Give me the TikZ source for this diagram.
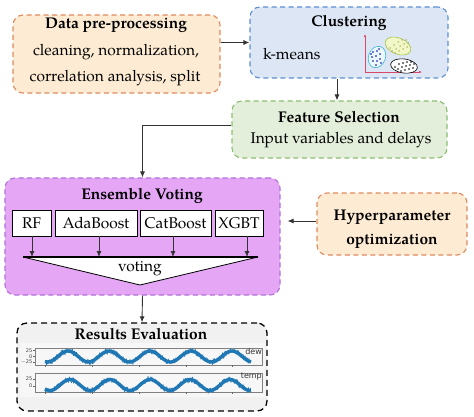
\documentclass[tikz,border=0pt]{standalone}
\usepackage{fontspec}
\setmainfont{TeX Gyre Pagella}
\newfontfamily\plotfont{DejaVu Sans}
\usetikzlibrary{arrows.meta,calc}
\definecolor{orfill}{HTML}{FDEBD3}
\definecolor{ordraw}{HTML}{E08A5E}
\definecolor{blfill}{HTML}{DCE6F4}
\definecolor{bldraw}{HTML}{5E8FD2}
\definecolor{grfill}{HTML}{E3EFDA}
\definecolor{grdraw}{HTML}{8DBD71}
\definecolor{pufill}{HTML}{E4A6F5}
\definecolor{pudraw}{HTML}{B470D8}
\definecolor{resfill}{HTML}{F1F1F1}
\definecolor{mplblue}{HTML}{1F77B4}
\definecolor{axred}{HTML}{D9486A}
\definecolor{cyd}{HTML}{3DB6D6}
\definecolor{ygd}{HTML}{A7C34A}
\definecolor{ygf}{HTML}{F2F7C8}
\definecolor{ygdot}{HTML}{96A03C}
\tikzset{
  box/.style={draw, rounded corners=10pt, dash pattern=on 5pt off 3.5pt, line width=1.1pt, inner sep=0pt},
  conn/.style={-{Latex[length=6pt,width=5pt]}, line width=0.9pt, draw=black!80},
  mbox/.style={draw, fill=white, line width=0.8pt, minimum height=26pt, inner sep=0pt, text height=11pt, text depth=0pt, font=\fontsize{15.5}{26}\selectfont},
  txt/.style={inner sep=0pt, anchor=base, font=\fontsize{15.5}{26}\selectfont},
  ttl/.style={inner sep=0pt, anchor=base, font=\fontsize{15.5}{26}\selectfont\bfseries},
  tick/.style={inner sep=0pt, font=\plotfont\fontsize{5}{5}\selectfont, text=black!75, anchor=east},
  axbox/.style={draw=black!50, line width=0.6pt}
}
\begin{document}
\begin{tikzpicture}[x=1pt,y=-1pt]
\useasboundingbox (0,0) rectangle (474,417);
% boxes
\node[box, draw=ordraw, fill=orfill, minimum width=207pt, minimum height=78pt] (data) at (116.5,54) {};
\node[box, draw=bldraw, fill=blfill, minimum width=198pt, minimum height=71pt] (clus) at (349,42.5) {};
\node[box, draw=grdraw, fill=grfill, minimum width=215pt, minimum height=57pt] (feat) at (339.5,129.5) {};
\node[box, draw=pudraw, fill=pufill, minimum width=275pt, minimum height=117pt] (ens) at (142.5,236.5) {};
\node[box, draw=ordraw, fill=orfill, minimum width=150pt, minimum height=62pt] (hyp) at (392,224) {};
\node[box, draw=black, fill=resfill, line width=1.3pt, dash pattern=on 6pt off 4pt, minimum width=250pt, minimum height=88pt] (res) at (142,367) {};

% texts
\node[ttl] (tdata) at (116,29) {Data pre-processing};
\node[txt] (tdata2) at (116,55.5) {cleaning, normalization,};
\node[txt] (tdata3) at (115,82) {correlation analysis, split};
\node[ttl] (tclus) at (349,27) {Clustering};
\node[txt, anchor=base west] (tkm) at (263,60) {k-means};
\node[ttl] (tfeat) at (339,123) {Feature Selection};
\node[txt] (tfeat2) at (341,144) {Input variables and delays};
\node[ttl] (tens) at (142,199.5) {Ensemble Voting};
\node[ttl] (thyp) at (392,220) {Hyperparameter};
\node[ttl] (thyp2) at (392,244) {optimization};
\node[ttl] (tres) at (141,339) {Results Evaluation};

% clustering icon
\draw[axred, line width=0.6pt, -{Latex[length=3pt,width=2.5pt]}] (365,72) -- (365,34);
\draw[axred, line width=0.6pt, -{Latex[length=3pt,width=2.5pt]}] (365,72) -- (422,72);
\draw[cyd, fill=cyan!8, line width=0.6pt] (377,57) ellipse [x radius=8.5, y radius=11, rotate=-20];
\foreach \dx/\dy in {-4/-5,0/-6,3/-3,-5/0,-1/-1,3/2,-4/4,0/4,4/6,-1/8,2/-8,-6/-3}
  \fill[blue!70!black] (377+\dx,57+\dy) circle (0.8);
\draw[ygd, fill=ygf, line width=0.6pt] (398,46) ellipse [x radius=13.5, y radius=8, rotate=-22];
\foreach \dx/\dy in {-8/2,-4/-1,0/-4,4/-6,8/-6,-6/5,-2/3,2/0,6/-2,10/-3,-3/7,1/5,5/3,9/1}
  \fill[ygdot] (398+\dx,46+\dy) circle (0.75);
\draw[black, fill=white, line width=0.6pt] (404,66) ellipse [x radius=13.5, y radius=7, rotate=-8];
\foreach \dx/\dy in {-9/1,-5/-2,-1/-3,3/-4,7/-4,-6/3,-2/1,2/0,6/-1,10/-2,-3/5,1/4,5/3,9/2}
  \fill[black] (404+\dx,66+\dy) circle (0.8);

% ensemble inner
\node[mbox, minimum width=39pt] (rf) at (31.5,223) {RF};
\node[mbox, minimum width=82pt] (ada) at (96,223) {AdaBoost};
\node[mbox, minimum width=71pt] (cat) at (175.5,223) {CatBoost};
\node[mbox, minimum width=48pt] (xgb) at (239,223) {XGBT};
\coordinate (tl) at (23,257);
\coordinate (tr) at (258,257);
\coordinate (tb) at (140,285);
\fill[white] (tl) -- (tr) -- (tb) -- cycle;
\draw[line width=0.8pt, line join=round] (tr) -- (tb) -- (tl);
\draw[line width=1.6pt] (tl) -- (tr);
\node[txt] (tvot) at (140,271) {voting};
\draw[conn] ([xshift=0.5pt]rf.south) -- ([xshift=0.5pt]rf.south |- tl);
\draw[conn] ([xshift=3pt]ada.south) -- ([xshift=3pt]ada.south |- tl);
\draw[conn] ([xshift=-2.5pt]cat.south) -- ([xshift=-2.5pt]cat.south |- tl);
\draw[conn] ([xshift=8pt]xgb.south) -- ([xshift=8pt]xgb.south |- tl);

% connectors
\draw[conn] (data.east |- clus.west) -- (clus.west);
\draw[conn] ([xshift=-12pt]clus.south) -- ([xshift=-12pt]clus.south |- feat.north);
\draw[conn] ([yshift=4pt]feat.west) -- ([yshift=4pt]ens.north |- feat.west) -- (ens.north);
\draw[conn, shorten >=7pt] ([yshift=3pt]hyp.west) -- ([yshift=3pt]hyp.west -| ens.east);
\draw[conn] (ens.south) -- (res.north);

% plots
\fill[white!97!black] (20,343) rectangle (265,397);
\draw[axbox] (35,348) rectangle (262,365);
\draw[axbox] (35,373) rectangle (262,392);
\foreach \yy/\lab in {350.5/25,356.5/0,362.5/$-$25}{
  \draw[black!60, line width=0.4pt] (33,\yy) -- (35,\yy);
  \node[tick] at (32.5,\yy) {\lab};
}
\foreach \yy/\lab in {379/25,386/0}{
  \draw[black!60, line width=0.4pt] (33,\yy) -- (35,\yy);
  \node[tick] at (32.5,\yy) {\lab};
}
\foreach \xx in {45,92,139,186,232}{
  \draw[black!60, line width=0.4pt] (\xx,365) -- (\xx,367);
  \draw[black!60, line width=0.4pt] (\xx,392) -- (\xx,394);
}
\pgfmathsetseed{7}
\draw[mplblue, line width=3.4pt, line join=round] plot[domain=45:251, samples=120] (\x, {356.5-5.5*cos(8.7805*(\x-68))});
\draw[mplblue, line width=0.5pt, line join=round] plot[domain=45:251, samples=420] (\x, {356.5-5.5*cos(8.7805*(\x-68))+3.2*rand});
\draw[mplblue, line width=3.4pt, line join=round] plot[domain=45:251, samples=120] (\x, {385-5.5*cos(9*(\x-70))});
\draw[mplblue, line width=0.5pt, line join=round] plot[domain=45:251, samples=420] (\x, {385-5.5*cos(9*(\x-70))+3.2*rand});
\node[inner sep=0pt, font=\plotfont\fontsize{8}{8}\selectfont, text=black!80, anchor=east] (ldew) at (262,352) {dew};
\node[inner sep=0pt, font=\plotfont\fontsize{8}{8}\selectfont, text=black!80, anchor=east] (ltemp) at (262,377) {temp};
\end{tikzpicture}
\end{document}
